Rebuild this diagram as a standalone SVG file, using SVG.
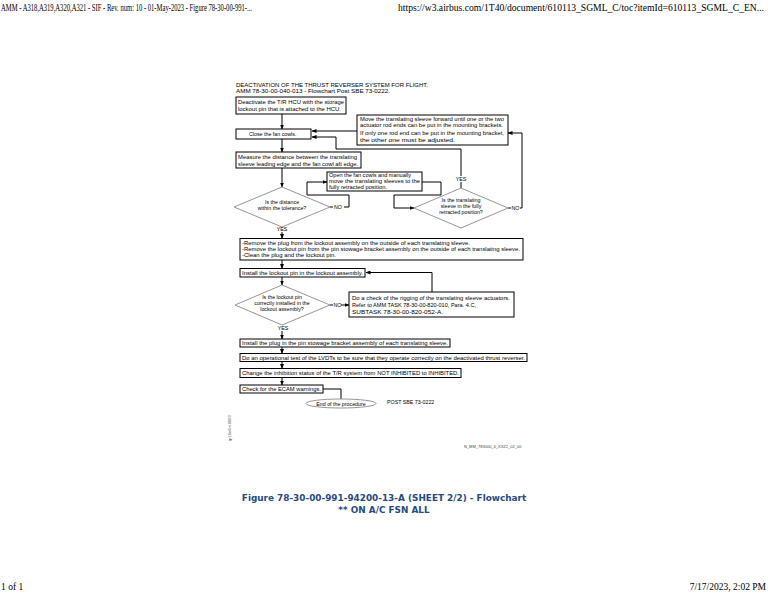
<svg xmlns="http://www.w3.org/2000/svg" width="768" height="594" viewBox="0 0 768 594">
<defs>
<marker id="ah" markerUnits="userSpaceOnUse" markerWidth="5" markerHeight="4" refX="4.5" refY="2" orient="auto">
<path d="M0,0 L5,2 L0,4 Z" fill="#000"/>
</marker>
<style>
.page{font-family:"Liberation Serif",serif;font-size:9.5px;fill:#000}
.t{font-family:"Liberation Sans",Arial,sans-serif;font-size:5.3px;fill:#000}
.box{fill:#fff;stroke:#000;stroke-width:1}
.dia{fill:#fff;stroke:#8a8a8a;stroke-width:0.9}
.c{fill:none;stroke:#000;stroke-width:1}
.ca{fill:none;stroke:#000;stroke-width:1;marker-end:url(#ah)}
.cap{font-family:"DejaVu Sans",Verdana,sans-serif;font-weight:bold;font-size:8.9px;fill:#284a7e;text-anchor:middle}
.sm{font-family:"Liberation Sans",Arial,sans-serif;font-size:4px;fill:#444}
</style>
</defs>
<rect width="768" height="594" fill="#fff"/>
<text class="page" x="1" y="10.5" textLength="251" lengthAdjust="spacingAndGlyphs">AMM - A318,A319,A320,A321 - SIF - Rev. num: 10 - 01-May-2023 - Figure 78-30-00-991-...</text>
<text class="page" x="398" y="10.5" textLength="366" lengthAdjust="spacingAndGlyphs">https://w3.airbus.com/1T40/document/610113_SGML_C/toc?itemId=610113_SGML_C_EN...</text>
<text class="page" x="1" y="590">1 of 1</text>
<text class="page" x="766" y="590" text-anchor="end">7/17/2023, 2:02 PM</text>

<g id="title">
<text class="t" x="236" y="87" textLength="192" lengthAdjust="spacingAndGlyphs">DEACTIVATION OF THE THRUST REVERSER SYSTEM FOR FLIGHT.</text>
<text class="t" x="236" y="93" textLength="154" lengthAdjust="spacingAndGlyphs">AMM 78-30-00-040-013 - Flowchart Post SBE 73-0222.</text>
</g>

<g id="connectors">
<path class="ca" d="M282,114 V129"/>
<path class="ca" d="M282,139 V152"/>
<path class="ca" d="M282,168 V187"/>
<path class="ca" d="M357,131 H312"/>
<path class="ca" d="M461,176 V149 H336 V137 H312"/>
<path class="c" d="M461,182 V188"/>
<path class="c" d="M330,207 H333"/>
<path class="ca" d="M344,207 H349 V195 H307 V182 H327"/>
<path class="ca" d="M422,182 H441 V195 H394 V208 H414"/>
<path class="c" d="M508,208 H511"/>
<path class="ca" d="M520,208 H522 V133 H508"/>
<path class="ca" d="M282,232 V238.5"/>
<path class="ca" d="M282,260 V268.5"/>
<path class="ca" d="M282,277 V285"/>
<path class="c" d="M330,305 H333"/>
<path class="ca" d="M341,305 H349"/>
<path class="ca" d="M432,292 V272.5 H366"/>
<path class="ca" d="M282,331 V339"/>
<path class="ca" d="M282,347 V353.5"/>
<path class="ca" d="M282,361.5 V368.5"/>
<path class="ca" d="M282,377.5 V385"/>
<path class="c" d="M323,389 H341 V399"/>
</g>

<g id="n1">
<rect class="box" x="236" y="97" width="110" height="17"/>
<text class="t" x="238" y="103.5" textLength="106" lengthAdjust="spacingAndGlyphs">Deactivate the T/R HCU with the storage</text>
<text class="t" x="238" y="110.5" textLength="103" lengthAdjust="spacingAndGlyphs">lockout pin that is attached to the HCU.</text>
</g>
<g id="n2">
<rect class="box" x="236" y="129" width="75" height="10"/>
<text class="t" x="249" y="136">Close the fan cowls.</text>
</g>
<g id="n3">
<rect class="box" x="357" y="115" width="151" height="30"/>
<text class="t" x="360" y="120.5" textLength="144" lengthAdjust="spacingAndGlyphs">Move the translating sleeve forward until one or the two</text>
<text class="t" x="360" y="127" textLength="143" lengthAdjust="spacingAndGlyphs">actuator rod ends can be put in the mounting brackets.</text>
<text class="t" x="360" y="135" textLength="144" lengthAdjust="spacingAndGlyphs">If only one rod end can be put in the mounting bracket,</text>
<text class="t" x="360" y="141.5" textLength="95" lengthAdjust="spacingAndGlyphs">the other one must be adjusted.</text>
</g>
<g id="n4">
<rect class="box" x="236" y="152" width="125" height="16"/>
<text class="t" x="238" y="158.5" textLength="119" lengthAdjust="spacingAndGlyphs">Measure the distance between the translating</text>
<text class="t" x="238" y="165.5" textLength="120" lengthAdjust="spacingAndGlyphs">sleeve leading edge and the fan cowl aft edge.</text>
</g>
<g id="d1">
<polygon class="dia" points="282,187 330,207 282,227 234,207"/>
<text class="t" x="282" y="203.5" text-anchor="middle">Is the distance</text>
<text class="t" x="282" y="210" text-anchor="middle">within the tolerance?</text>
<text class="t" x="334" y="209">NO</text>
<text class="t" x="282" y="231" text-anchor="middle">YES</text>
</g>
<g id="n5">
<rect class="box" x="327" y="172" width="95" height="19"/>
<text class="t" x="329" y="176.5" textLength="82" lengthAdjust="spacingAndGlyphs">Open the fan cowls and manually</text>
<text class="t" x="329" y="182.5" textLength="91" lengthAdjust="spacingAndGlyphs">move the translating sleeves to the</text>
<text class="t" x="329" y="188.5" textLength="58" lengthAdjust="spacingAndGlyphs">fully retracted position.</text>
</g>
<g id="d2">
<polygon class="dia" points="461,188 508,208 461,228 414,208"/>
<text class="t" x="461" y="202" text-anchor="middle">Is the translating</text>
<text class="t" x="461" y="208" text-anchor="middle">sleeve in the fully</text>
<text class="t" x="461" y="214" text-anchor="middle">retracted position?</text>
<text class="t" x="461" y="181" text-anchor="middle">YES</text>
<text class="t" x="511.5" y="210">NO</text>
</g>
<g id="n6">
<rect class="box" x="240" y="238.5" width="283" height="21.5"/>
<text class="t" x="242" y="244.5" textLength="228" lengthAdjust="spacingAndGlyphs">-Remove the plug from the lockout assembly on the outside of each translating sleeve.</text>
<text class="t" x="242" y="250.5" textLength="278" lengthAdjust="spacingAndGlyphs">-Remove the lockout pin from the pin stowage bracket assembly on the outside of each translating sleeve.</text>
<text class="t" x="242" y="256.5" textLength="94" lengthAdjust="spacingAndGlyphs">-Clean the plug and the lockout pin.</text>
</g>
<g id="n7">
<rect class="box" x="240" y="268.5" width="125" height="8.5"/>
<text class="t" x="242" y="275" textLength="121" lengthAdjust="spacingAndGlyphs">Install the lockout pin in the lockout assembly.</text>
</g>
<g id="d3">
<polygon class="dia" points="282,285 330,305 282,325 235,305"/>
<text class="t" x="282" y="299" text-anchor="middle">Is the lockout pin</text>
<text class="t" x="282" y="305" text-anchor="middle">correctly installed in the</text>
<text class="t" x="282" y="311" text-anchor="middle">lockout assembly?</text>
<text class="t" x="333.5" y="307">NO</text>
<text class="t" x="283" y="330" text-anchor="middle">YES</text>
</g>
<g id="n8">
<rect class="box" x="349" y="292" width="165" height="25"/>
<text class="t" x="352" y="300" textLength="158" lengthAdjust="spacingAndGlyphs">Do a check of the rigging of the translating sleeve actuators.</text>
<text class="t" x="352" y="307" textLength="124" lengthAdjust="spacingAndGlyphs">Refer to AMM TASK 78-30-00-820-010, Para. 4.C,</text>
<text class="t" x="352" y="314" textLength="91" lengthAdjust="spacingAndGlyphs">SUBTASK 78-30-00-820-052-A.</text>
</g>
<g id="n9">
<rect class="box" x="240" y="339" width="210" height="8"/>
<text class="t" x="242" y="345" textLength="206" lengthAdjust="spacingAndGlyphs">Install the plug in the pin stowage bracket assembly of each translating sleeve.</text>
</g>
<g id="n10">
<rect class="box" x="240" y="353.5" width="287" height="8"/>
<text class="t" x="242" y="359.5" textLength="283" lengthAdjust="spacingAndGlyphs">Do an operational test of the LVDTs to be sure that they operate correctly on the deactivated thrust reverser.</text>
</g>
<g id="n11">
<rect class="box" x="240" y="368.5" width="221" height="9"/>
<text class="t" x="242" y="375" textLength="217" lengthAdjust="spacingAndGlyphs">Change the inhibition status of the T/R system from NOT INHIBITED to INHIBITED.</text>
</g>
<g id="n12">
<rect class="box" x="240" y="385" width="83" height="8"/>
<text class="t" x="242" y="391" textLength="79" lengthAdjust="spacingAndGlyphs">Check for the ECAM warnings.</text>
</g>
<g id="end">
<ellipse cx="341" cy="403.5" rx="35" ry="4.5" fill="#fff" stroke="#8a8a8a" stroke-width="0.9"/>
<text class="t" x="341" y="405.5" text-anchor="middle">End of the procedure</text>
</g>
<text class="t" x="387" y="403.5">POST SBE 73-0222</text>
<text class="sm" transform="translate(231,441) rotate(-90)">gr10e6m 0003</text>
<text class="sm" x="464" y="447.5">N_MM_783000_4_XXZ2_02_00</text>

<text class="cap" x="384" y="501">Figure 78-30-00-991-94200-13-A (SHEET 2/2) - Flowchart</text>
<text class="cap" x="384" y="513">** ON A/C FSN ALL</text>
</svg>
